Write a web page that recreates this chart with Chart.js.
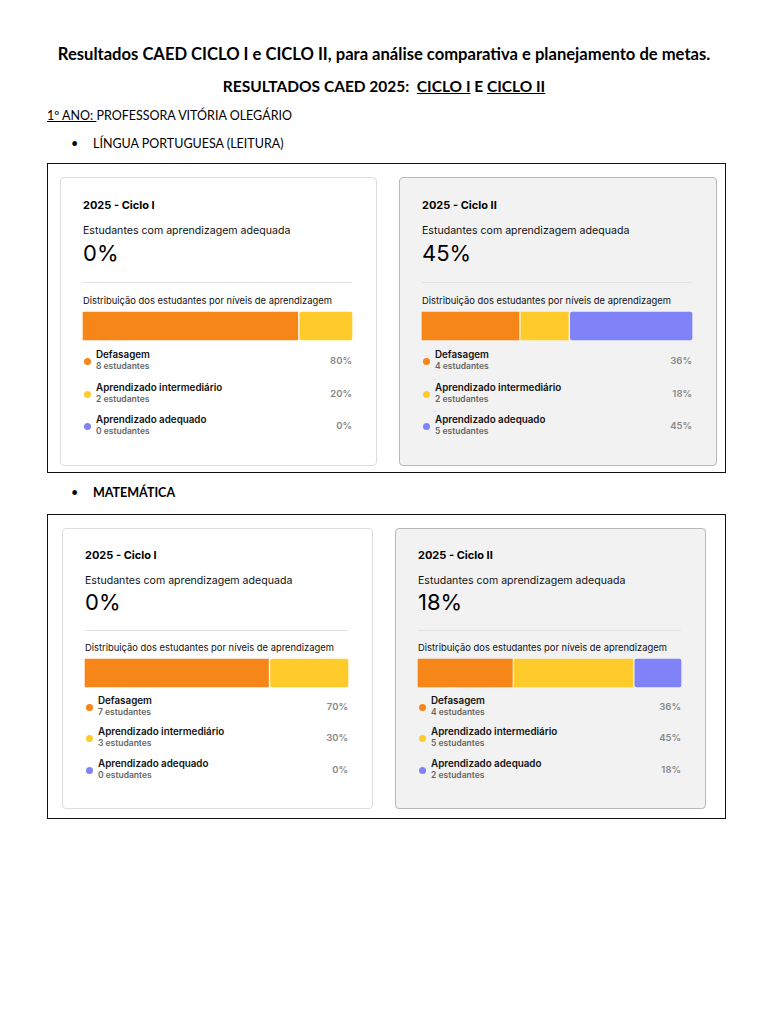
<!DOCTYPE html>
<html>
<head>
<meta charset="UTF-8">
<title>Resultados CAED</title>
<script src="https://cdn.jsdelivr.net/npm/chart.js@4"></script>
<style>
  body{margin:0;background:#fff;width:768px;height:1024px;position:relative;font-family:Lato,"Open Sans",sans-serif;color:#000;}
  .doc{position:absolute;white-space:nowrap;}
  .h1{left:0;width:768px;text-align:center;top:44px;font-weight:bold;font-size:16.6px;}
  .h2{left:0;width:768px;text-align:center;top:77px;font-weight:bold;font-size:15.5px;}
  .h3{left:47px;top:108px;font-size:12.5px;}
  .bul{font-size:12.5px;}
  .box{position:absolute;border:1.5px solid #111;box-sizing:border-box;}
  .card{position:absolute;box-sizing:border-box;border:1px solid #ddd;border-radius:4px;background:#fff;font-family:Inter,"Noto Sans",sans-serif;}
  .card.alt{background:#f2f2f2;border-color:#b8b8b8;}
  .card div{position:absolute;white-space:nowrap;}
  .ct{font-weight:bold;font-size:11px;}
  .cs{font-size:10.6px;color:#111;}
  .cd{font-size:9.4px;color:#111;}
  .cb{font-size:22px;}
  .hr{height:1px;background:#e3e3e3;}
  .dot{width:7px;height:7px;border-radius:50%;}
  .ll{font-size:9.8px;font-weight:600;color:#111;}
  .lsub{font-size:8.5px;color:#666;font-weight:600;}
  .pct{font-size:9.5px;color:#888;font-weight:600;text-align:right;}
</style>
</head>
<body>
<div class="doc h1">Resultados CAED CICLO I e CICLO II, para análise comparativa e planejamento de metas.</div>
<div class="doc h2">RESULTADOS CAED 2025:&nbsp; <u>CICLO I</u> E <u>CICLO II</u></div>
<div class="doc h3"><u>1º ANO: </u>PROFESSORA VITÓRIA OLEGÁRIO</div>
<div class="doc bul" style="left:71px;top:136px;">•</div>
<div class="doc bul" style="left:93px;top:136px;">LÍNGUA PORTUGUESA (LEITURA)</div>
<div class="doc bul" style="left:71px;top:485px;">•</div>
<div class="doc bul" style="left:93px;top:485px;font-weight:bold;">MATEMÁTICA</div>
<div class="box" style="left:47px;top:163px;width:679px;height:310px;"></div>
<div class="box" style="left:47px;top:514px;width:679px;height:305px;"></div>

<script>
// niveis de aprendizagem
const levels=["Defasagem","Aprendizado intermediário","Aprendizado adequado"];
const levelColors=["#F68618","#FFCB2A","#8082F8"];

// numero de estudantes por nivel
const lpCiclo1=[8,2,0];
const lpCiclo2=[4,2,5];
const matCiclo1=[7,3,0];
const matCiclo2=[4,5,2];

// percentuais mostrados
const lpPct1=[80,20,0];
const lpPct2=[36,18,45];
const matPct1=[70,30,0];
const matPct2=[36,45,18];

const adequada=[0,45,0,18];
const cardTitles=["2025 - Ciclo I","2025 - Ciclo II","2025 - Ciclo I","2025 - Ciclo II"];

const cards=[
  {x:60,y:177,w:317,h:289,alt:false,counts:lpCiclo1,pct:lpPct1},
  {x:399,y:177,w:318,h:289,alt:true,counts:lpCiclo2,pct:lpPct2},
  {x:62,y:528,w:311,h:281,alt:false,counts:matCiclo1,pct:matPct1},
  {x:395,y:528,w:311,h:281,alt:true,counts:matCiclo2,pct:matPct2}
];

cards.forEach((c,i)=>{
  const card=document.createElement("div");
  card.className="card"+(c.alt?" alt":"");
  card.style.left=c.x+"px";card.style.top=c.y+"px";
  card.style.width=c.w+"px";card.style.height=c.h+"px";
  document.body.appendChild(card);
  const pad=22, inner=c.w-2*pad-2;
  const s=c.h<285?0.97:1;
  function add(cls,top,text,extra){
    const d=document.createElement("div");
    d.className=cls;d.style.left=pad+"px";d.style.top=(top*s)+"px";
    if(text!=null)d.textContent=text;
    if(extra)Object.assign(d.style,extra);
    card.appendChild(d);return d;
  }
  add("ct",20,cardTitles[i]);
  add("cs",46,"Estudantes com aprendizagem adequada");
  add("cb",62,adequada[i]+"%");
  add("hr",104,null,{width:(inner-2)+"px"});
  add("cd",117,"Distribuição dos estudantes por níveis de aprendizagem");

  const wrap=add("",0,null,{width:inner+"px",height:"30px",left:(pad-1)+"px"});
  wrap.style.top=(133*s)+"px";
  const cv=document.createElement("canvas");
  wrap.appendChild(cv);
  const bg=c.alt?"#f2f2f2":"#ffffff";
  new Chart(cv,{
    type:"bar",
    data:{
      labels:[""],
      datasets:levels.map((l,k)=>({
        label:l,data:[c.counts[k]],backgroundColor:levelColors[k],
        borderColor:bg,borderWidth:1,borderRadius:3,borderSkipped:false,
        barPercentage:1,categoryPercentage:1
      }))
    },
    options:{
      indexAxis:"y",responsive:true,maintainAspectRatio:false,animation:false,
      layout:{padding:0},
      plugins:{legend:{display:false},tooltip:{enabled:false}},
      scales:{
        x:{stacked:true,display:false,min:0,max:c.counts.reduce((a,b)=>a+b,0)},
        y:{stacked:true,display:false}
      }
    }
  });

  levels.forEach((l,k)=>{
    const base=171+k*32.5;
    add("dot",base+9,null,{background:levelColors[k],left:(pad+1)+"px"});
    add("ll",base,l,{left:(pad+13)+"px"});
    add("lsub",base+12,c.counts[k]+" estudantes",{left:(pad+13)+"px"});
    add("pct",base+6,c.pct[k]+"%",{left:"auto",right:(pad+2)+"px"});
  });
});
</script>
</body>
</html>
